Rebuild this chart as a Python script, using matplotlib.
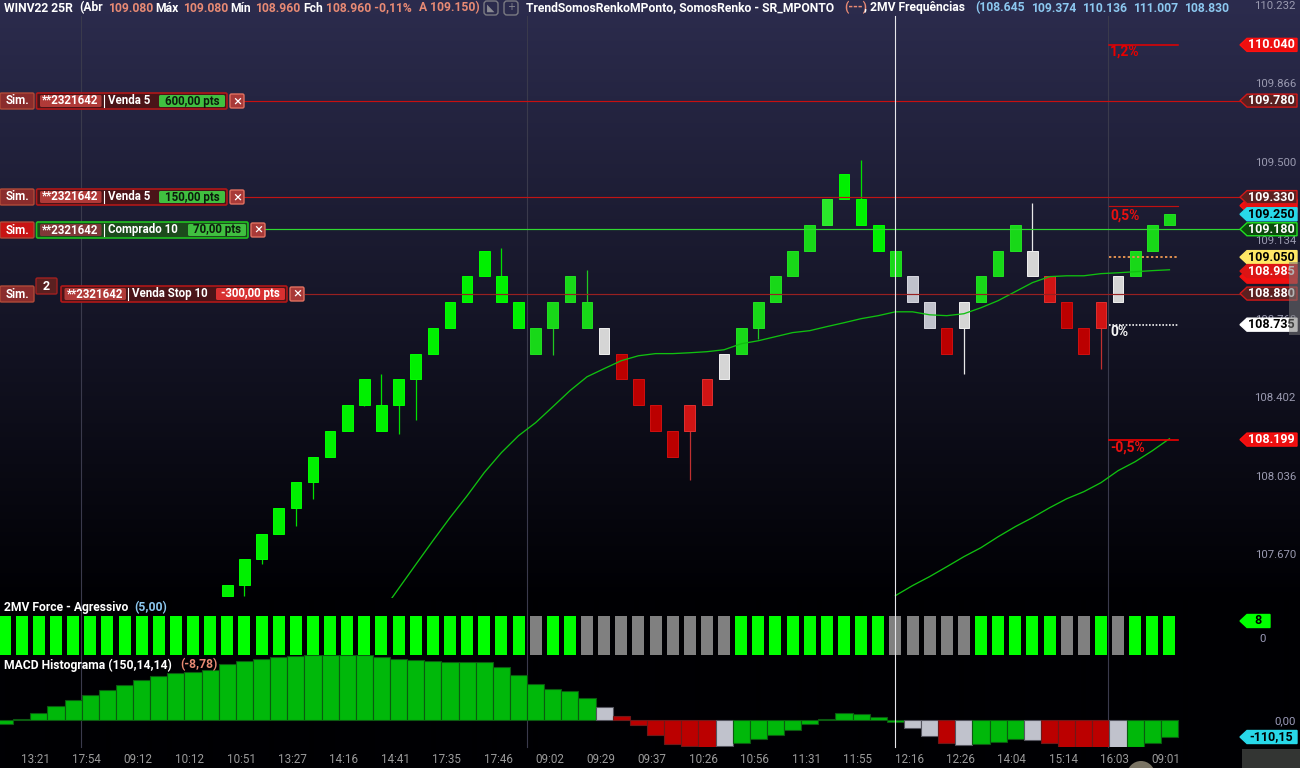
import numpy as np
import matplotlib
matplotlib.use('Agg')
import matplotlib.pyplot as plt
from matplotlib.patches import FancyBboxPatch, Polygon, Rectangle, Circle
from matplotlib.transforms import ScaledTranslation

plt.rcParams['font.family'] = ['Roboto', 'DejaVu Sans']

W, H = 1300, 768

# ---------- data ----------
candle_low = [107.47,107.52,107.64,107.76,107.88,108.00,108.12,108.24,108.36,108.24,108.36,108.48,108.60,108.72,108.84,108.96,
              108.84,108.72,108.60,108.72,108.84,108.72,108.60,108.48,108.36,108.24,108.12,108.24,108.36,108.48,108.60,108.72,
              108.84,108.96,109.08,109.20,109.32,109.20,109.08,108.96,108.84,108.72,108.60,108.72,108.84,108.96,109.08,108.96,
              108.84,108.72,108.60,108.72,108.84,108.96,109.08,109.20]
candle_high = [107.52,107.64,107.76,107.88,108.00,108.12,108.24,108.36,108.48,108.36,108.48,108.60,108.72,108.84,108.96,109.08,
               108.96,108.84,108.72,108.84,108.96,108.84,108.72,108.60,108.48,108.36,108.24,108.36,108.48,108.60,108.72,108.84,
               108.96,109.08,109.20,109.32,109.44,109.32,109.20,109.08,108.96,108.84,108.72,108.84,108.96,109.08,109.20,109.08,
               108.96,108.84,108.72,108.84,108.96,109.08,109.20,109.25]
candle_kind = ['G']*18 + ['d']*4 + ['w'] + ['r']*4 + ['R','R','w'] + ['d']*5 + ['e','G','G','G','d','l','l','r','w',
               'd','d','d','w','R','r','r','R','w','d','d','d']
wick_top = {9:108.506, 16:109.094, 21:108.991, 37:109.504, 47:109.304}
wick_bottom = {1:107.47, 2:107.617, 4:107.794, 5:107.92, 8:108.358, 10:108.226, 11:108.289, 19:108.592,
               27:108.009, 31:108.67, 43:108.506, 51:108.53}

ma_fast_index = list(range(9, 56))
ma_fast = [107.392,107.504,107.616,107.727,107.835,107.937,108.045,108.138,108.217,108.278,108.352,108.427,
           108.492,108.530,108.567,108.590,108.600,108.600,108.604,108.609,108.618,108.646,108.660,108.679,
           108.698,108.707,108.726,108.744,108.763,108.777,108.795,108.795,108.781,108.777,108.786,108.814,
           108.847,108.889,108.931,108.959,108.963,108.963,108.973,108.977,108.982,108.987,108.991]
ma_slow_index = list(range(39, 56))
ma_slow = [107.471,107.518,107.560,107.606,107.653,107.695,107.746,107.793,107.835,107.881,107.923,107.956,
           107.998,108.054,108.096,108.147,108.203]

force_index = list(range(-13, 56))
force_state = [1]*31 + [0,1,1,0,0,0,0,0,0,0,0,0] + [1]*9 + [0]*5 + [1]*5 + [0,0,1,0,1,1,1]

macd_values = [-20,13,51,93,133,167,200,233,266,293,313,320,333,373,393,406,420,426,433,435,435,435,420,406,400,393,
               386,386,386,353,300,240,206,193,147,87,33,-33,-93,-153,-171,-190,-167,-147,-120,-93,-60,-20,13,47,40,20,
               -13,-53,-100,-147,-160,-153,-140,-120,-127,-147,-190,-190,-190,-190,-173,-147,-110.15]
macd_kind = ['g']*35 + ['w'] + ['r']*6 + ['w'] + ['g']*10 + ['w','w','r','w','g','g','g','w','r','r','r','r','w','g','g','g']

price_ticks = [110.232,109.866,109.5,109.134,108.768,108.402,108.036,107.67]
time_labels = ['13:21','17:54','09:12','10:12','10:51','13:27','14:16','14:41','17:35','17:46','09:02','09:29',
               '09:37','10:26','10:56','11:31','11:55','12:16','12:26','14:04','15:14','16:03','09:01']
time_index = list(range(-11, 56, 3))
order_levels = [109.78, 109.33, 109.18, 108.88]
fib_levels = [110.04, 109.29, 109.05, 108.735, 108.199]

# ---------- scales ----------
X0, DX = 227.3, 17.13
xlim = ((0 - X0) / DX, (W - X0) / DX)
P_SLOPE = 0.004664
Y_SHIFT = 1.3 * P_SLOPE
ylim_main = (110.232 - 593 * P_SLOPE - Y_SHIFT, 110.232 + 5 * P_SLOPE - Y_SHIFT)

fig = plt.figure(figsize=(W / 100, H / 100), dpi=100, facecolor='#000003')

def panel(top, bottom, z):
    a = fig.add_axes([0, 1 - bottom / H, 1, (bottom - top) / H], zorder=z)
    a.patch.set_alpha(0)
    for s in a.spines.values():
        s.set_visible(False)
    a.set_xlim(*xlim)
    return a

# background gradient
bg = fig.add_axes([0, 0, 1, 1], zorder=0)
bg.set_axis_off()
bg.set_xlim(0, W); bg.set_ylim(H, 0)
t = np.clip(np.arange(H) / 600.0, 0, 1)[:, None, None]
c0 = np.array([0x2c, 0x2c, 0x4e])[None, None, :] / 255
c1 = np.array([0x00, 0x00, 0x03])[None, None, :] / 255
bg.imshow(c0 * (1 - t) + c1 * t, extent=(0, W, H, 0), aspect='auto', interpolation='bilinear')
for px in (81, 527, 1108):
    bg.plot([px, px], [16, 747], color='#3a3a4c', lw=0.8)

# ---------- main panel ----------
ax = panel(0, 598, 2)
ax.set_ylim(*ylim_main)
KIND = {'G': ('#00f000', '#00ff00'), 'd': ('#18d818', '#22e022'), 'e': ('#2ae82a', '#30f030'),
        'w': ('#d5d5d5', '#f0f0f0'), 'l': ('#c0c2cc', '#d8d8e0'), 'r': ('#bb0000', '#d01010'),
        'R': ('#d01414', '#e03030')}
WICK = {'G': '#00e000', 'd': '#20c820', 'e': '#20c820', 'w': '#e8e8e8', 'l': '#d0d0d8', 'r': '#c03030', 'R': '#c03030'}
for i in range(len(candle_low)):
    k = candle_kind[i]
    if i in wick_top:
        ax.vlines(i, candle_high[i], wick_top[i], color=WICK[k], lw=0.9, zorder=2)
    if i in wick_bottom:
        ax.vlines(i, wick_bottom[i], candle_low[i], color=WICK[k], lw=0.9, zorder=2)
    ax.bar(i, candle_high[i] - candle_low[i], bottom=candle_low[i], width=0.62,
           color=KIND[k][0], edgecolor=KIND[k][1], linewidth=0.7, zorder=3)
ax.plot(ma_fast_index, ma_fast, color='#10c010', lw=0.95, zorder=4)
ax.plot(ma_slow_index, ma_slow, color='#10c010', lw=0.95, zorder=4)

ORDER_X = [(244, '#c81010', 0.85), (244, '#c01414', 0.85), (264, '#30d830', 0.85), (305, '#982020', 0.85)]
for lvl, (xs, col, lw) in zip(order_levels, ORDER_X):
    ax.plot([(xs - X0) / DX, (1242 - X0) / DX], [lvl, lvl], color=col, lw=lw, zorder=5)
FIB_ST = [('#e80000', '-', 1.1), ('#c01010', '-', 0.85), ('#e09050', (0, (1.2, 1.2)), 1.4),
          ('#f0f0f0', (0, (1, 1)), 1.2), ('#f00000', '-', 1.2)]
for lvl, (col, ls, lw) in zip(fib_levels, FIB_ST):
    ax.plot([51.5, 55.5], [lvl, lvl], color=col, ls=ls, lw=lw, zorder=5)

ax.yaxis.tick_right()
ax.set_yticks(price_ticks)
ax.set_yticklabels([f'{v:.3f}' for v in price_ticks], color='#9a9ab0', fontsize=8.2, ha='right')
ax.tick_params(axis='y', length=0, pad=-3)
ax.set_xticks([])
for lbl in ax.get_yticklabels():
    lbl.set_transform(lbl.get_transform() + ScaledTranslation(0, -1.3 / 100, fig.dpi_scale_trans))

# ---------- force panel ----------
fx = panel(616, 655, 2)
fx.set_ylim(0, 1)
fx.bar(force_index, [1] * len(force_index), width=12 / DX,
       color=['#00ff00' if s else '#808080' for s in force_state], linewidth=0)
fx.set_xticks([]); fx.set_yticks([])

# ---------- MACD panel ----------
mx = panel(655, 747, 2)
mx.set_ylim(-176, 435)
MC = {'g': ('#00b80a', '#0b5a10'), 'r': ('#bb0000', '#701818'), 'w': ('#c0c2cc', '#55555f')}
mx.bar(force_index, macd_values, width=1.0, color=[MC[k][0] for k in macd_kind],
       edgecolor=[MC[k][1] for k in macd_kind], linewidth=0.8)
mx.set_xticks(np.array(time_index) - 0.2)
mx.set_xticklabels(time_labels, color='#9a9a9a', fontsize=8.4)
mx.tick_params(axis='x', length=0, pad=4)
mx.yaxis.tick_right()
mx.set_yticks([0])
mx.set_yticklabels(['0,00'], color='#9a9ab8', fontsize=8.2, ha='right')
mx.tick_params(axis='y', length=0, pad=-3)

# ---------- overlay in screen pixels ----------
ui = fig.add_axes([0, 0, 1, 1], zorder=5)
ui.set_axis_off(); ui.patch.set_alpha(0)
ui.set_xlim(0, W); ui.set_ylim(H, 0)

def py(price):
    return H - ax.transData.transform((0, price))[1]

def txt(x, y, s, color='white', size=8.7, weight='bold', ha='left', z=12):
    ui.text(x, y, s, color=color, fontsize=size, fontweight=weight, ha=ha, va='center', zorder=z)

def box(x0, x1, y0, y1, fc, ec, lw=1.0, z=8, r=1.5):
    ui.add_patch(FancyBboxPatch((x0 + r, y0 + r), x1 - x0 - 2 * r, y1 - y0 - 2 * r, boxstyle=f'round,pad={r},rounding_size={r}',
                                fc=fc, ec=ec, lw=lw, zorder=z, mutation_aspect=1))

ui.plot([895, 895], [16, 747], color='#e6e6ea', lw=0.8, zorder=6)

SAL = '#e88a74'; BLU = '#8cc8f0'
HY = 8
for x, s, c in [(4, 'WINV22 25R', 'white'), (79, '(Abr', 'white'), (108, '109.080', SAL), (155, 'Máx', 'white'), (183, '109.080', SAL),
                (230, 'Mín', 'white'), (255, '108.960', SAL), (303, 'Fch', 'white'), (325.5, '108.960 -0,11%', SAL),
                (419, 'A 109.150)', SAL), (526.5, 'TrendSomosRenkoMPonto, SomosRenko - SR_MPONTO', 'white'),
                (844, '(---)', SAL), (864, ', 2MV Frequências', 'white'), (975, '(108.645', BLU),
                (1030.6, '109.374', BLU), (1081.6, '110.136', BLU), (1133, '111.007', BLU), (1184.4, '108.830', BLU)]:
    txt(x, HY, s, c)
for bx, sym in [(491, '◣'), (511, '+')]:
    box(bx - 7, bx + 7, 1, 15, 'none', '#7a7a82', 1.0, r=3)
    ui.text(bx, 7.5, sym, color='#8a8a92', fontsize=7, ha='center', va='center', zorder=12, family='DejaVu Sans')

txt(4, 607.5, '2MV Force - Agressivo'); txt(134, 607.5, '(5,00)', BLU)
txt(4, 665, 'MACD Histograma (150,14,14)'); txt(180, 665, '(-8,78)', SAL)

FIB_TXT = [(1110, 51.5, '1,2%', '#e80000'), (1110, 215.5, '0,5%', '#e81010'), (1110, 332, '0%', '#f4f4f4'), (1110, 448, '-0,5%', '#e81010')]
for x, y, s, c in FIB_TXT:
    txt(x, y, s, c, size=10)

# order tickets
def order(y, sim_fc, main_x, main_end, main_fc, main_ec, id_fc, label, pts, pts_x0, pts_fc, pts_tc):
    box(0, 34, y - 8, y + 8, sim_fc, '#b04a38', 1.0)
    txt(17, y, 'Sim.', size=8.4, ha='center')
    box(main_x, main_end, y - 8, y + 8, main_fc, main_ec, 1.2)
    box(main_x + 3.5, main_x + 65, y - 6, y + 6, id_fc, 'none', 0, z=9)
    txt(main_x + 34, y, '**2321642', size=8.3, ha='center')
    ui.plot([main_x + 67, main_x + 67], [y - 6, y + 6], color='white', lw=0.8, zorder=10)
    txt(main_x + 71, y, label, size=8.3)
    box(pts_x0, main_end - 2, y - 6, y + 6, pts_fc, 'none', 0, z=9)
    txt((pts_x0 + main_end - 2) / 2, y, pts, pts_tc, size=8.3, ha='center')
    bx = main_end + 3
    box(bx, bx + 14, y - 7, y + 7, '#a83a38', '#e07060', 1.0)
    txt(bx + 7, y, '×', size=11, ha='center', weight='normal')

order(101, '#8a2c2c', 36.5, 227, '#4a1418', '#b01818', '#b03a38', 'Venda 5', '600,00 pts', 159, '#40c040', '#0c1c0c')
order(197, '#8a2c2c', 36.5, 227, '#4a1418', '#b01818', '#b03a38', 'Venda 5', '150,00 pts', 159, '#40c040', '#0c1c0c')
order(230, '#c81414', 36.5, 248, '#1c4a1c', '#20c020', '#803838', 'Comprado 10', '70,00 pts', 188, '#40c040', '#0c1c0c')
order(294, '#8a2c2c', 61, 287, '#4a1418', '#b01818', '#b03a38', 'Venda Stop 10', '-300,00 pts', 216, '#d83030', 'white')
box(36, 57, 278, 294, '#5a2020', '#a02020', 1.0)
txt(46.5, 286, '2', size=9, ha='center')

# price tags
def tag(y, s, fc, ec, tc, x0=1240, x1=1297, z=8, h=6.5, size=9.0):
    ui.add_patch(Polygon([(x0, y), (x0 + 7, y - h), (x1, y - h), (x1, y + h), (x0 + 7, y + h)], closed=True,
                         fc=fc, ec=ec, lw=1.0, zorder=z))
    ui.text((x0 + x1 + 6) / 2, y, s, color=tc, fontsize=size, fontweight='bold', ha='center', va='center', zorder=z)

tag(py(109.29), '', '#e81010', '#ff1010', 'white', z=8)
tag(py(108.959), '', '#f01010', '#f01010', 'white', z=8)
tag(py(110.04), '110.040', '#ee0f0f', '#ff1010', 'white', z=9)
tag(py(109.78), '109.780', '#5a2020', '#d01818', 'white', z=9)
tag(py(109.33), '109.330', '#5a2020', '#d01818', 'white', z=9)
tag(py(109.25), '109.250', '#28d8e8', '#28d8e8', 'black', z=9)
tag(py(109.18), '109.180', '#0c4a0c', '#20e020', 'white', z=9)
tag(py(109.05), '109.050', '#ffe866', '#ffe866', 'black', z=9)
tag(py(108.985), '108.985', '#dc1414', '#dc1414', 'white', z=9)
tag(py(108.88), '108.880', '#5a2020', '#d01818', 'white', z=9)
tag(py(108.735), '108.735', '#ffffff', '#ffffff', 'black', z=9)
tag(py(108.199), '108.199', '#ee0f0f', '#ff1010', 'white', z=9)
tag(621, '8', '#00ff00', '#00ff00', 'black', x0=1240, x1=1270, z=9, h=6.5)
ui.text(1265.5, 639, '0', color='#9a9ab8', fontsize=8.2, ha='right', va='center', zorder=9)
tag(737, '-110,15', '#28d8e8', '#28d8e8', 'black', z=9)

# screen clutter
ui.add_patch(Rectangle((1289, 262), 11, 73, fc='#777777', ec='none', alpha=0.55, zorder=13))
ui.add_patch(Rectangle((1242, 749), 58, 19, fc='#333533', ec='none', zorder=13))
ui.add_patch(Circle((1141, 775), 14, fc='#7a7464', ec='none', zorder=13))

fig.savefig('out.png', dpi=100, facecolor=fig.get_facecolor())
